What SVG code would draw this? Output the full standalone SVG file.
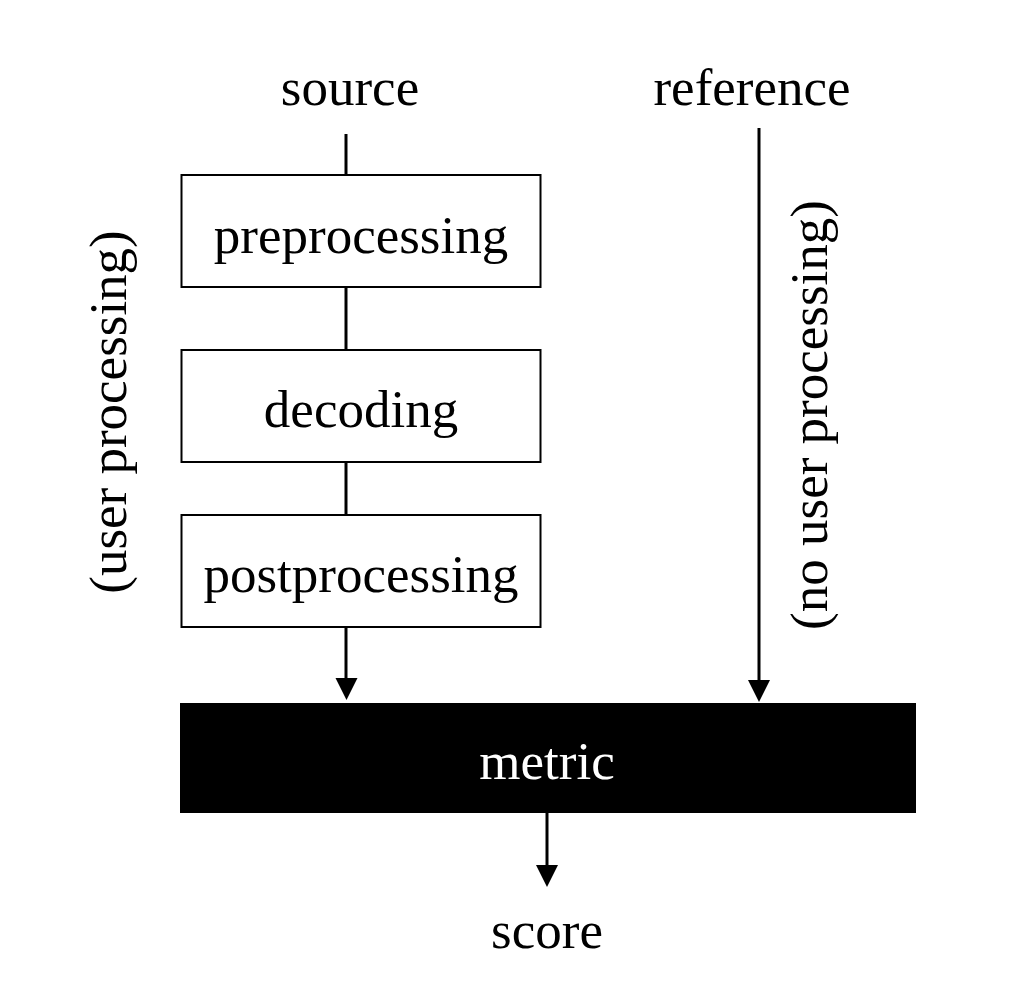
<svg xmlns="http://www.w3.org/2000/svg" width="1014" height="982" viewBox="0 0 1014 982">
<style>
text{font-family:"Liberation Serif","Times New Roman",serif;font-size:53px;fill:#000;text-anchor:middle}
.box{fill:#fff;stroke:#000;stroke-width:2}
.line{stroke:#000;stroke-width:3;fill:none}
.head{fill:#000}
</style>
<rect width="1014" height="982" fill="#fff"/>
<g id="connectors">
<line class="line" x1="346" y1="134" x2="346" y2="175"/>
<line class="line" x1="346" y1="287" x2="346" y2="350"/>
<line class="line" x1="346" y1="462" x2="346" y2="515"/>
<line class="line" x1="346" y1="627" x2="346" y2="682"/>
<polygon class="head" points="335.5,678 357.5,678 346.5,700"/>
<line class="line" x1="759" y1="128" x2="759" y2="684"/>
<polygon class="head" points="748,680 770,680 759,702"/>
<line class="line" x1="547" y1="813" x2="547" y2="869"/>
<polygon class="head" points="536,865 558,865 547,887"/>
</g>
<g id="source"><text x="350" y="105">source</text></g>
<g id="reference"><text x="752" y="105">reference</text></g>
<g id="preprocessing"><rect class="box" x="181.5" y="175" width="359" height="112"/><text x="361" y="253">preprocessing</text></g>
<g id="decoding"><rect class="box" x="181.5" y="350" width="359" height="112"/><text x="361" y="427">decoding</text></g>
<g id="postprocessing"><rect class="box" x="181.5" y="515" width="359" height="112"/><text x="361" y="592">postprocessing</text></g>
<g id="metric"><rect x="180" y="703" width="736" height="110" fill="#000"/><text x="547" y="779" style="fill:#fff">metric</text></g>
<g id="score"><text x="547" y="948">score</text></g>
<g id="user-processing"><text transform="translate(126,412) rotate(-90)">(user processing)</text></g>
<g id="no-user-processing"><text transform="translate(827,415) rotate(-90)">(no user processing)</text></g>
</svg>
